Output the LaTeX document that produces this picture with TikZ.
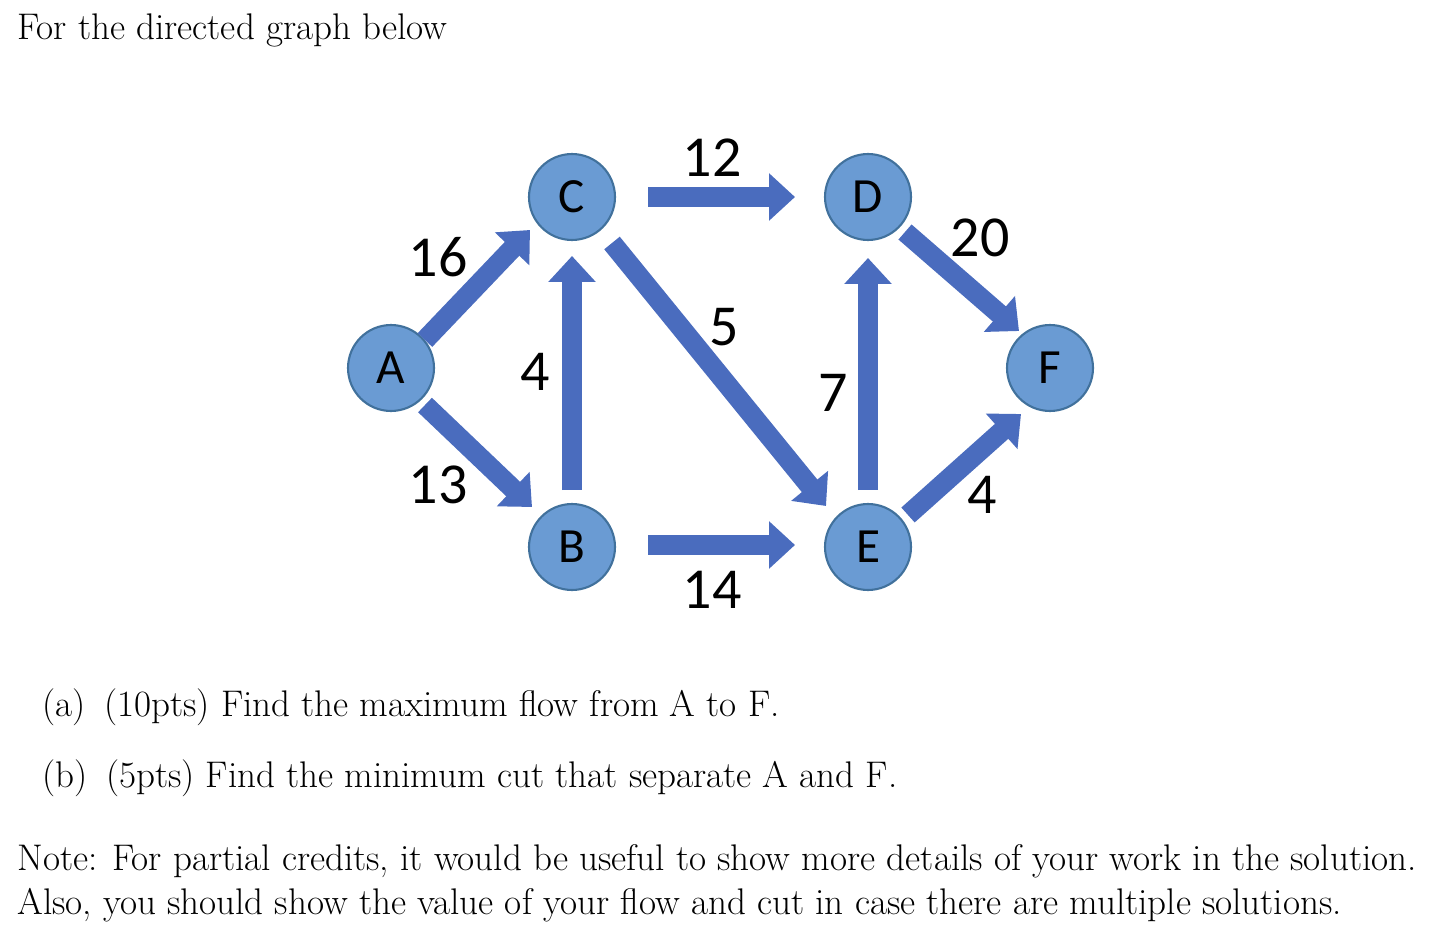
\documentclass[tikz,border=0pt]{standalone}
\usepackage{fontspec}
\newfontfamily\carlitofam{Carlito}
\usetikzlibrary{arrows.meta}
\definecolor{nodefill}{HTML}{6A9BD3}
\definecolor{nodeline}{HTML}{41719C}
\definecolor{arrfill}{HTML}{4A6CBE}
\begin{document}
\begin{tikzpicture}[x=0.02cm,y=-0.02cm,
  vtx/.style={circle,minimum size=1.72cm,inner sep=0,fill=nodefill,draw=nodeline,line width=1.2pt,font=\carlitofam\fontsize{28}{28}\selectfont},
  blk/.style={arrfill,line width=0.4cm,-{Triangle[width=0.92cm,length=0.52cm]}},
  lbl/.style={font=\carlitofam\fontsize{33}{33}\selectfont},
  txt/.style={anchor=west,inner sep=0,font=\fontsize{21.1}{24}\selectfont}]
\useasboundingbox (0,0) rectangle (1446,932);
\node[txt] (t0) at (17,30) {For the directed graph below};
\node[vtx] (A) at (391,368) {A};
\node[vtx] (C) at (572,197) {C};
\node[vtx] (D) at (868,197) {D};
\node[vtx] (F) at (1050,368) {F};
\node[vtx] (B) at (572,547) {B};
\node[vtx] (E) at (868,547) {E};
\coordinate (a1) at (425,340); \coordinate (a2) at (530,230);
\coordinate (b1) at (425,405); \coordinate (b2) at (532,507);
\coordinate (c1) at (648,197); \coordinate (c2) at (795,197);
\coordinate (d1) at (572,490); \coordinate (d2) at (572,256);
\coordinate (e1) at (612,243); \coordinate (e2) at (826,506);
\coordinate (f1) at (905,232); \coordinate (f2) at (1019,331);
\coordinate (g1) at (868,490); \coordinate (g2) at (868,258);
\coordinate (h1) at (648,545); \coordinate (h2) at (795,545);
\coordinate (i1) at (908,515); \coordinate (i2) at (1021,414);
\draw[blk] (a1) -- (a2);
\draw[blk] (b1) -- (b2);
\draw[blk] (c1) -- (c2);
\draw[blk] (d1) -- (d2);
\draw[blk] (e1) -- (e2);
\draw[blk] (f1) -- (f2);
\draw[blk] (g1) -- (g2);
\draw[blk] (h1) -- (h2);
\draw[blk] (i1) -- (i2);
\node[lbl] (l1) at (712,158) {12};
\node[lbl] (l2) at (438,257) {16};
\node[lbl] (l3) at (724,327) {5};
\node[lbl] (l4) at (980,238) {20};
\node[lbl] (l5) at (535,372) {4};
\node[lbl] (l6) at (833,393) {7};
\node[lbl] (l7) at (438,485) {13};
\node[lbl] (l8) at (712,590) {14};
\node[lbl] (l9) at (982,495) {4};
\node[txt] (ta) at (42,707) {(a)\enspace(10pts) Find the maximum flow from A to F.};
\node[txt] (tb) at (42,778) {(b)\enspace(5pts) Find the minimum cut that separate A and F.};
\node[txt] (tn) at (17,861) {Note: For partial credits, it would be useful to show more details of your work in the solution.};
\node[txt] (tm) at (17,905) {Also, you should show the value of your flow and cut in case there are multiple solutions.};
\end{tikzpicture}
\end{document}
